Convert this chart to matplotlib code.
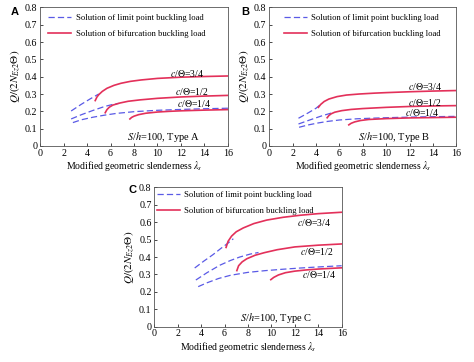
import matplotlib
matplotlib.use("Agg")
import matplotlib.pyplot as plt

plt.rcParams['font.family'] = ['Liberation Serif', 'DejaVu Serif']
plt.rcParams['mathtext.fontset'] = 'stix'

# ---------------- data ----------------
# Panel A
a_lim34_x = [2.65, 3.5, 4.3, 5.0]
a_lim34_y = [0.202, 0.240, 0.273, 0.300]
a_bif34_x = [4.7, 4.85, 5.0, 5.3, 5.7, 6.3, 6.9, 7.7, 8.6, 10, 12, 14, 16]
a_bif34_y = [0.262, 0.283, 0.296, 0.315, 0.333, 0.350, 0.362, 0.373, 0.381, 0.390, 0.397, 0.401, 0.404]
a_lim12_x = [2.65, 3.5, 4.5, 5.5, 6.2, 6.7]
a_lim12_y = [0.156, 0.180, 0.205, 0.228, 0.240, 0.246]
a_bif12_x = [5.55, 5.7, 5.9, 6.2, 6.8, 7.5, 8.5, 10, 12, 14, 16]
a_bif12_y = [0.192, 0.210, 0.224, 0.236, 0.248, 0.258, 0.266, 0.275, 0.283, 0.288, 0.292]
a_lim14_x = [2.8, 3.5, 4.5, 5.5, 6.5, 8, 10, 12, 14, 16]
a_lim14_y = [0.135, 0.151, 0.166, 0.178, 0.188, 0.198, 0.206, 0.211, 0.215, 0.218]
a_bif14_x = [7.65, 7.8, 8.0, 8.4, 9.0, 10, 11, 12, 14, 16]
a_bif14_y = [0.156, 0.165, 0.172, 0.181, 0.189, 0.196, 0.200, 0.203, 0.207, 0.210]

# Panel B
b_lim34_x = [2.5, 3.3, 4.0, 4.4]
b_lim34_y = [0.160, 0.190, 0.218, 0.240]
b_bif34_x = [4.2, 4.4, 4.7, 5.1, 5.8, 6.6, 7.7, 9, 10, 12, 14, 16]
b_bif34_y = [0.223, 0.240, 0.257, 0.271, 0.285, 0.294, 0.300, 0.305, 0.308, 0.313, 0.317, 0.320]
b_lim12_x = [2.5, 3.5, 4.5, 5.5]
b_lim12_y = [0.127, 0.151, 0.174, 0.194]
b_bif12_x = [4.95, 5.1, 5.3, 5.6, 6.2, 7.0, 8.0, 10, 12, 14, 16]
b_bif12_y = [0.163, 0.176, 0.186, 0.195, 0.204, 0.211, 0.216, 0.223, 0.228, 0.231, 0.233]
b_lim14_x = [2.55, 3.3, 4.1, 5.0, 6.0, 7.5, 9, 11, 13, 16]
b_lim14_y = [0.108, 0.121, 0.132, 0.142, 0.150, 0.157, 0.161, 0.165, 0.168, 0.171]
b_bif14_x = [6.8, 7.0, 7.3, 7.8, 8.5, 10, 12, 14, 16]
b_bif14_y = [0.122, 0.131, 0.139, 0.147, 0.153, 0.158, 0.162, 0.164, 0.166]

# Panel C
c_lim34_x = [3.45, 4.2, 5.0, 5.7, 6.3, 6.75]
c_lim34_y = [0.337, 0.375, 0.413, 0.450, 0.480, 0.505]
c_bif34_x = [6.13, 6.3, 6.6, 7.0, 7.6, 8.5, 9.6, 11, 12.5, 14, 16]
c_bif34_y = [0.455, 0.490, 0.520, 0.545, 0.567, 0.592, 0.612, 0.628, 0.640, 0.649, 0.657]
c_lim12_x = [3.55, 4.5, 5.6, 6.5, 7.3, 8.2, 8.9]
c_lim12_y = [0.268, 0.310, 0.353, 0.380, 0.400, 0.417, 0.426]
c_bif12_x = [7.05, 7.2, 7.5, 7.9, 8.6, 9.4, 10.5, 12, 14, 16]
c_bif12_y = [0.322, 0.350, 0.372, 0.390, 0.410, 0.425, 0.442, 0.458, 0.468, 0.475]
c_lim14_x = [3.75, 4.5, 5.5, 6.5, 8, 9.5, 11, 12.5, 14, 16]
c_lim14_y = [0.230, 0.252, 0.277, 0.295, 0.312, 0.322, 0.330, 0.337, 0.343, 0.350]
c_bif14_x = [9.95, 10.2, 10.6, 11.2, 12, 13, 14, 16]
c_bif14_y = [0.270, 0.283, 0.297, 0.310, 0.319, 0.326, 0.331, 0.338]

curve_labels = [r'$c$/$\Theta$=3/4', r'$c$/$\Theta$=1/2', r'$c$/$\Theta$=1/4']
xticks = [0, 2, 4, 6, 8, 10, 12, 14, 16]
yticks = [0, 0.1, 0.2, 0.3, 0.4, 0.5, 0.6, 0.7, 0.8]
ytick_labels = ['0', '0.1', '0.2', '0.3', '0.4', '0.5', '0.6', '0.7', '0.8']

BLUE = '#5a5ae6'
RED = '#e3305a'

panels = [
    dict(letter='A', rect=[0.0844, 0.5967, 0.3966, 0.383], letter_pos=(0.022, 0.968),
         lims=[(a_lim34_x, a_lim34_y), (a_lim12_x, a_lim12_y), (a_lim14_x, a_lim14_y)],
         bifs=[(a_bif34_x, a_bif34_y), (a_bif12_x, a_bif12_y), (a_bif14_x, a_bif14_y)],
         lab_pos=[(11.1, 0.421), (11.45, 0.316), (11.7, 0.247)],
         type_text=r'$S$/$h$=100, Type A', type_pos=(10.5, 0.052),
         leg_anchor=(0.025, 0.979)),
    dict(letter='B', rect=[0.568, 0.5967, 0.395, 0.383], letter_pos=(0.508, 0.968),
         lims=[(b_lim34_x, b_lim34_y), (b_lim12_x, b_lim12_y), (b_lim14_x, b_lim14_y)],
         bifs=[(b_bif34_x, b_bif34_y), (b_bif12_x, b_bif12_y), (b_bif14_x, b_bif14_y)],
         lab_pos=[(11.9, 0.343), (11.9, 0.253), (11.6, 0.194)],
         type_text=r'$S$/$h$=100, Type B', type_pos=(10.7, 0.054),
         leg_anchor=(0.059, 0.979)),
    dict(letter='C', rect=[0.3255, 0.0975, 0.3953, 0.385], letter_pos=(0.272, 0.474),
         lims=[(c_lim34_x, c_lim34_y), (c_lim12_x, c_lim12_y), (c_lim14_x, c_lim14_y)],
         bifs=[(c_bif34_x, c_bif34_y), (c_bif12_x, c_bif12_y), (c_bif14_x, c_bif14_y)],
         lab_pos=[(12.2, 0.598), (12.45, 0.431), (12.6, 0.297)],
         type_text=r'$S$/$h$=100, Type C', type_pos=(10.4, 0.048),
         leg_anchor=(-0.005, 1.0)),
]

fig = plt.figure(figsize=(4.74, 3.62), dpi=100)

for p in panels:
    ax = fig.add_axes(p['rect'])
    for i, ((lx, ly), (bx, by)) in enumerate(zip(p['lims'], p['bifs'])):
        ax.plot(lx, ly, color=BLUE, lw=0.9, dashes=(5, 2.5),
                label='Solution of limit point buckling load' if i == 0 else None)
        ax.plot(bx, by, color=RED, lw=1.2,
                label='Solution of bifurcation buckling load' if i == 0 else None)
        tx, ty = p['lab_pos'][i]
        ax.text(tx, ty, curve_labels[i], fontsize=7, ha='left', va='center')
    ax.text(p['type_pos'][0], p['type_pos'][1], p['type_text'], fontsize=7.5,
            ha='center', va='center')
    ax.set_xlim(0, 16)
    ax.set_ylim(0, 0.8)
    ax.set_xticks(xticks)
    ax.set_yticks(yticks)
    ax.set_yticklabels(ytick_labels)
    ax.tick_params(direction='in', length=2, width=0.5, labelsize=7.2, pad=2)
    for s in ax.spines.values():
        s.set_linewidth(0.6)
        s.set_color('#555555')
    ax.set_xlabel(r'Modified geometric slenderness $\lambda_s$', fontsize=7, labelpad=1)
    ax.set_ylabel(r'$Q/(2N_{Ez2}\Theta)$', fontsize=8, labelpad=2)
    ax.legend(loc='upper left', bbox_to_anchor=p['leg_anchor'], frameon=False,
              fontsize=6.2, handlelength=2.7, handletextpad=0.5, labelspacing=1.0,
              borderaxespad=0.0)
    fig.text(p['letter_pos'][0], p['letter_pos'][1], p['letter'], fontsize=8,
             fontweight='bold', family='Liberation Sans', ha='left', va='center')

fig.savefig('out.png', dpi=100)
